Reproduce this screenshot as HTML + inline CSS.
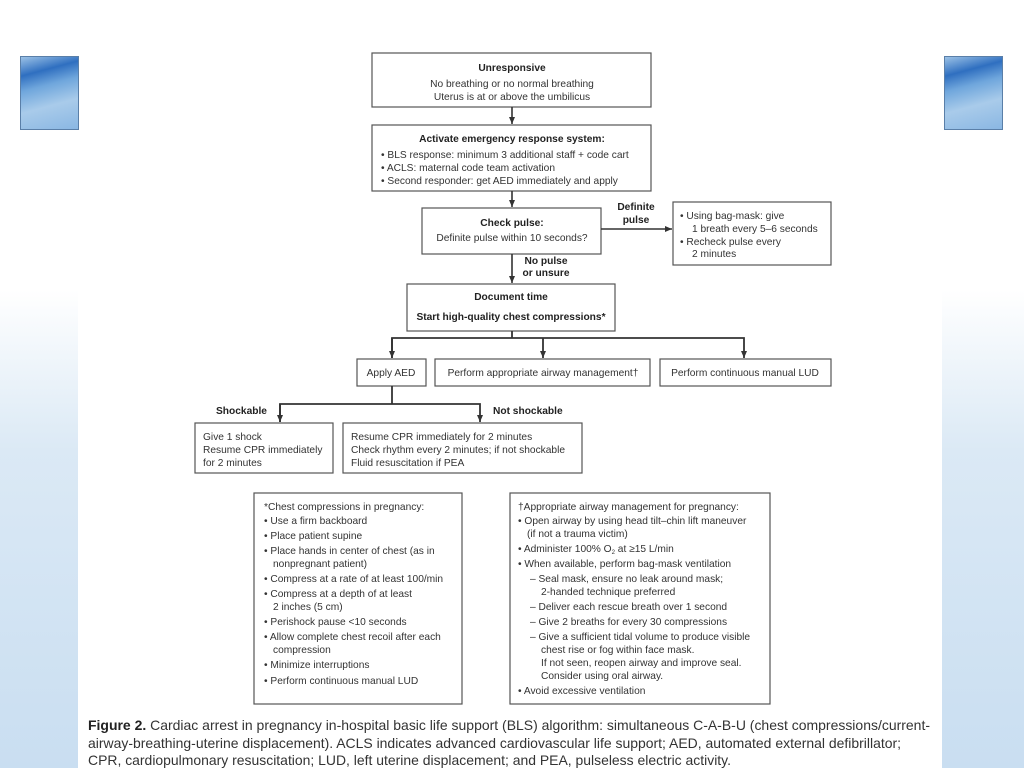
<!DOCTYPE html>
<html><head><meta charset="utf-8"><style>
html,body{margin:0;padding:0;width:1024px;height:768px;overflow:hidden;background:#fff}
#bg{position:absolute;left:0;top:0;width:1024px;height:768px;background:linear-gradient(to bottom,#fff 0,#fff 290px,#dbe9f5 450px,#c9def1 768px)}
#page{position:absolute;left:78px;top:0;width:864px;height:768px;background:#fff}
.sq{position:absolute;top:56px;width:57px;height:72px;background:linear-gradient(165deg,#9cc2e6 0%,#2f6fc0 22%,#6fa6dc 40%,#a9cbea 65%,#8ab7e3 100%);border:1px solid #5a7fa8}
svg{position:absolute;left:0;top:0}
text{font-family:"Liberation Sans",sans-serif;font-size:10.2px;fill:#333}
.b{font-weight:bold;fill:#222}
.cap{font-size:14px;fill:#333}
</style></head><body>
<div id="bg"></div><div id="page"></div>
<div class="sq" style="left:20px"></div>
<div class="sq" style="left:944px"></div>
<svg width="1024" height="768" viewBox="0 0 1024 768">
<defs><marker id="a" markerWidth="8" markerHeight="8" refX="7" refY="4" orient="auto" markerUnits="userSpaceOnUse"><path d="M0,1 L7,4 L0,7 z" fill="#333"/></marker></defs>
<g fill="none" stroke="#555" stroke-width="1.2">
<rect x="372" y="53" width="279" height="54"/>
<rect x="372" y="125" width="279" height="66"/>
<rect x="422" y="208" width="179" height="46"/>
<rect x="673" y="202" width="158" height="63"/>
<rect x="407" y="284" width="208" height="47"/>
<rect x="357" y="359" width="69" height="27"/>
<rect x="435" y="359" width="215" height="27"/>
<rect x="660" y="359" width="171" height="27"/>
<rect x="195" y="423" width="138" height="50"/>
<rect x="343" y="423" width="239" height="50"/>
<rect x="254" y="493" width="208" height="211"/>
<rect x="510" y="493" width="260" height="211"/>
</g>
<g stroke="#333" stroke-width="1.6" fill="none" marker-end="url(#a)">
<line x1="512" y1="107" x2="512" y2="124"/>
<line x1="512" y1="191" x2="512" y2="207"/>
<line x1="601" y1="229" x2="672" y2="229"/>
<line x1="512" y1="254" x2="512" y2="283"/>
</g>
<g stroke="#333" stroke-width="1.8" fill="none">
<line x1="512" y1="331" x2="512" y2="338"/>
<polyline points="392,358 392,338 744,338 744,358" marker-end="url(#a)"/>
<line x1="543" y1="338" x2="543" y2="358" marker-end="url(#a)"/>
<line x1="392" y1="338" x2="392" y2="358" marker-end="url(#a)"/>
<line x1="392" y1="386" x2="392" y2="404"/>
<polyline points="280,422 280,404 480,404 480,422" marker-end="url(#a)"/>
<line x1="280" y1="404" x2="280" y2="422" marker-end="url(#a)"/>
</g>
<text x="512" y="71" text-anchor="middle" class="b">Unresponsive</text>
<text x="512" y="87" text-anchor="middle">No breathing or no normal breathing</text>
<text x="512" y="100" text-anchor="middle">Uterus is at or above the umbilicus</text>
<text x="512" y="142" text-anchor="middle" class="b">Activate emergency response system:</text>
<text x="381" y="158">•  BLS response: minimum 3 additional staff + code cart</text>
<text x="381" y="171">•  ACLS: maternal code team activation</text>
<text x="381" y="184">•  Second responder: get AED immediately and apply</text>
<text x="512" y="226" text-anchor="middle" class="b">Check pulse:</text>
<text x="512" y="241" text-anchor="middle">Definite pulse within 10 seconds?</text>
<text x="636" y="210" text-anchor="middle" class="b">Definite</text>
<text x="636" y="223" text-anchor="middle" class="b">pulse</text>
<text x="680" y="219">•  Using bag-mask: give</text>
<text x="692" y="232">1 breath every 5–6 seconds</text>
<text x="680" y="245">•  Recheck pulse every</text>
<text x="692" y="257">2 minutes</text>
<text x="546" y="264" text-anchor="middle" class="b">No pulse</text>
<text x="546" y="276" text-anchor="middle" class="b">or unsure</text>
<text x="511" y="300" text-anchor="middle" class="b">Document time</text>
<text x="511" y="320" text-anchor="middle" class="b">Start high-quality chest compressions*</text>
<text x="391" y="376" text-anchor="middle">Apply AED</text>
<text x="543" y="376" text-anchor="middle">Perform appropriate airway management†</text>
<text x="745" y="376" text-anchor="middle">Perform continuous manual LUD</text>
<text x="216" y="414" class="b">Shockable</text>
<text x="493" y="414" class="b">Not shockable</text>
<text x="203" y="440">Give 1 shock</text>
<text x="203" y="453">Resume CPR immediately</text>
<text x="203" y="466">for 2 minutes</text>
<text x="351" y="440">Resume CPR immediately for 2 minutes</text>
<text x="351" y="453">Check rhythm every 2 minutes; if not shockable</text>
<text x="351" y="466">Fluid resuscitation if PEA</text>
<text x="264" y="510">*Chest compressions in pregnancy:</text>
<text x="264" y="524">•  Use a firm backboard</text>
<text x="264" y="539">•  Place patient supine</text>
<text x="264" y="554">•  Place hands in center of chest (as in</text>
<text x="273" y="567">nonpregnant patient)</text>
<text x="264" y="582">•  Compress at a rate of at least 100/min</text>
<text x="264" y="597">•  Compress at a depth of at least</text>
<text x="273" y="610">2 inches (5 cm)</text>
<text x="264" y="625">•  Perishock pause &lt;10 seconds</text>
<text x="264" y="640">•  Allow complete chest recoil after each</text>
<text x="273" y="653">compression</text>
<text x="264" y="668">•  Minimize interruptions</text>
<text x="264" y="684">•  Perform continuous manual LUD</text>
<text x="518" y="510">†Appropriate airway management for pregnancy:</text>
<text x="518" y="524">•  Open airway by using head tilt–chin lift maneuver</text>
<text x="527" y="537">(if not a trauma victim)</text>
<text x="518" y="552">•  Administer 100% O<tspan font-size="6" dy="2">2</tspan><tspan dy="-2"> at ≥15 L/min</tspan></text>
<text x="518" y="567">•  When available, perform bag-mask ventilation</text>
<text x="530" y="582">–  Seal mask, ensure no leak around mask;</text>
<text x="541" y="595">2-handed technique preferred</text>
<text x="530" y="610">–  Deliver each rescue breath over 1 second</text>
<text x="530" y="625">–  Give 2 breaths for every 30 compressions</text>
<text x="530" y="640">–  Give a sufficient tidal volume to produce visible</text>
<text x="541" y="653">chest rise or fog within face mask.</text>
<text x="541" y="666">If not seen, reopen airway and improve seal.</text>
<text x="541" y="679">Consider using oral airway.</text>
<text x="518" y="694">•  Avoid excessive ventilation</text>
<text x="88" y="730" class="cap" textLength="842" lengthAdjust="spacingAndGlyphs"><tspan font-weight="bold" fill="#222">Figure 2.</tspan> Cardiac arrest in pregnancy in-hospital basic life support (BLS) algorithm: simultaneous C-A-B-U (chest compressions/current-</text>
<text x="88" y="748" class="cap" textLength="813" lengthAdjust="spacingAndGlyphs">airway-breathing-uterine displacement). ACLS indicates advanced cardiovascular life support; AED, automated external defibrillator;</text>
<text x="88" y="765" class="cap" textLength="643" lengthAdjust="spacingAndGlyphs">CPR, cardiopulmonary resuscitation; LUD, left uterine displacement; and PEA, pulseless electric activity.</text>
</svg>
</body></html>
